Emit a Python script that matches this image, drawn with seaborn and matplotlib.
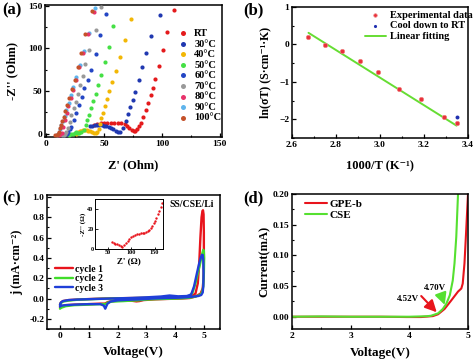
import numpy as np
import pandas as pd
import seaborn as sns
import matplotlib.pyplot as plt
from matplotlib.ticker import MultipleLocator

# ---------------- (a) Nyquist plots ----------------
temps = ['RT', '30°C', '40°C', '50°C', '60°C', '70°C', '80°C', '90°C', '100°C']
temp_colors = ['#e41a1c', '#2038b0', '#f2b705', '#45e045', '#2446c4',
               '#999999', '#e8336b', '#5fb4ec', '#c4512a']

zr_rt = [41, 44, 47, 50, 53, 56, 59, 62, 65, 68, 70, 72, 74, 75.5, 77, 78.5, 80,
         81.8, 83.8, 86, 88.3, 90.2, 92.2, 94.4, 97.8, 100.6, 104.7, 110.6]
zi_rt = [10, 11.5, 12, 12.5, 12.5, 13, 13, 12.8, 12.5, 11, 9, 6.5, 4, 2.5, 2.8, 5, 9,
         13, 20, 27.7, 36, 45, 54, 63.7, 79, 98, 119.5, 145.7]
zr_30 = [38, 40, 42, 44, 46, 48, 50, 52, 54, 56, 58, 60, 62.3, 64, 66.5, 68.7, 70.7,
         72.6, 74.9, 77, 80, 83, 86.6, 91, 98]
zi_30 = [9, 9.5, 9.8, 10, 10, 9.8, 9.5, 9, 8, 6.5, 5, 3, 1.5, 2, 6, 15, 23,
         31, 39.5, 49, 63, 78.5, 95, 115, 139]
zr_40 = [26, 27.5, 29, 30.5, 32, 33.5, 35, 36.5, 38, 39.5, 41, 42.7, 44, 45.5, 46.6,
         47.8, 49.2, 50.6, 52.5, 54.7, 57, 60, 63.7, 68, 73.5]
zi_40 = [0, 1.5, 2.5, 3.5, 3.8, 4, 3.8, 3.5, 3, 2, 1, 0.5, 2, 5, 11.3,
         18, 24.6, 32.4, 40.6, 50, 61, 74, 90, 110, 135]
zr_50 = [20, 21.5, 23, 24.5, 26, 27.5, 28.8, 30.5, 32.4, 34.4, 35.7, 37, 38.5, 40.8,
         42.7, 45, 47.5, 50.6, 54, 58]
zi_50 = [-2, -1, 0, 1, 1.5, 1, 0.4, 1.5, 4.3, 10, 16, 22, 29.7, 38,
         47, 57, 68.8, 83.6, 102, 126]
zr_60 = [15, 16.5, 18, 19, 20.5, 21.8, 23.7, 25.4, 28.2, 30.7, 33, 35.8, 38.5, 42.7, 46.6, 52]
zi_60 = [-2, -1, 0, 2.3, 5, 8, 16, 23.8, 33.6, 43, 53, 63, 74.6, 94, 115.6, 140]
zr_70 = [14, 15, 16, 17.5, 19, 20.4, 21.8, 23.7, 25.4, 27.4, 29.3, 31.6, 34, 37, 42.7, 47]
zi_70 = [-2, -1.5, -1, 2, 6, 14, 22, 29.7, 37.5, 47, 57, 68, 82, 98, 121.5, 149]
zr_80 = [11, 12, 13.4, 14.8, 16.2, 17.6, 19, 21.5, 23.2, 25.4, 28.8, 31.6, 35.8, 41.3]
zi_80 = [-2, -1, 0.4, 8, 16, 23.8, 32.4, 41.4, 51, 63, 78, 94.5, 116.4, 142.6]
zr_90 = [9, 10, 11, 12, 13, 14.5, 16, 17.5, 19.5, 21.5, 23.5, 26, 29, 32.5, 37, 42]
zi_90 = [-2, -1, 1, 5, 10, 15, 21, 28, 36, 45, 55, 66, 80, 97, 118, 148]
zr_100 = [8, 9, 10, 11, 12, 13, 14, 15, 16.5, 18, 20, 22, 24.5, 27.5, 30.5, 34, 39.5]
zi_100 = [-2, -1.5, -0.5, 2, 6, 10, 15, 20, 26, 33, 42, 52, 63, 78, 95, 117, 144]

nyquist = [(zr_rt, zi_rt), (zr_30, zi_30), (zr_40, zi_40), (zr_50, zi_50),
           (zr_60, zi_60), (zr_70, zi_70), (zr_80, zi_80), (zr_90, zi_90),
           (zr_100, zi_100)]

# ---------------- (b) Arrhenius ----------------
inv_t = [2.675, 2.75, 2.827, 2.907, 2.993, 3.086, 3.186, 3.291, 3.348]
ln_st = [0.20, -0.02, -0.18, -0.44, -0.74, -1.19, -1.45, -1.94, -2.11]
cool_x = [3.348]
cool_y = [-1.94]
fit_x = [2.675, 3.348]
fit_y = [0.31, -2.17]

# ---------------- (c) CV ----------------
c1_v = [0.00, 0.03, 0.10, 0.30, 0.60, 1.00, 1.50, 2.00, 2.50, 3.00, 3.50, 3.90, 4.30,
        4.55, 4.70, 4.78, 4.83, 4.87, 4.91, 4.94, 4.96, 4.98, 4.99, 4.99, 4.98, 4.95,
        4.88, 4.70, 4.50, 4.20, 3.80, 3.30, 2.90, 2.75, 2.65, 2.50, 2.20, 1.80, 1.65,
        1.60, 1.55, 1.40, 1.00, 0.50, 0.20, 0.05, 0.00]
c1_j = [-0.06, -0.04, -0.025, -0.015, -0.01, -0.005, 0.000, 0.003, 0.005, 0.007, 0.010,
        0.012, 0.015, 0.02, 0.05, 0.15, 0.35, 0.60, 0.80, 0.86, 0.87, 0.83, 0.65, 0.40,
        0.20, 0.10, 0.05, 0.02, 0.005, 0.000, -0.003, -0.008, -0.015, -0.025, -0.028,
        -0.022, -0.02, -0.025, -0.035, -0.045, -0.05, -0.05, -0.055, -0.06, -0.065,
        -0.075, -0.085]
c2_v = [0.00, 0.03, 0.10, 0.30, 0.60, 1.00, 1.50, 2.00, 2.50, 3.00, 3.50, 3.90, 4.30,
        4.50, 4.60, 4.70, 4.78, 4.85, 4.90, 4.94, 4.97, 4.99, 5.00, 4.99, 4.97, 4.93,
        4.85, 4.70, 4.50, 4.20, 3.80, 3.30, 2.90, 2.70, 2.50, 2.20, 1.80, 1.65, 1.60,
        1.55, 1.40, 1.00, 0.50, 0.20, 0.05, 0.00]
c2_j = [-0.07, -0.045, -0.03, -0.02, -0.012, -0.007, -0.002, 0.002, 0.004, 0.006, 0.010,
        0.012, 0.015, 0.025, 0.06, 0.15, 0.25, 0.33, 0.40, 0.45, 0.48, 0.47, 0.40, 0.25,
        0.12, 0.06, 0.035, 0.02, 0.008, 0.002, -0.002, -0.006, -0.012, -0.018, -0.02,
        -0.025, -0.03, -0.04, -0.055, -0.055, -0.055, -0.06, -0.065, -0.075, -0.09, -0.10]
c3_v = [0.00, 0.03, 0.10, 0.30, 0.60, 1.00, 1.50, 2.00, 2.50, 3.00, 3.50, 3.80, 4.10,
        4.40, 4.55, 4.65, 4.75, 4.83, 4.88, 4.92, 4.95, 4.97, 4.98, 4.97, 4.95, 4.90,
        4.80, 4.60, 4.40, 4.10, 3.70, 3.20, 2.80, 2.40, 2.00, 1.75, 1.65, 1.60, 1.57,
        1.52, 1.40, 1.00, 0.50, 0.20, 0.05, 0.00]
c3_j = [-0.06, -0.04, -0.025, -0.015, -0.01, -0.006, -0.002, 0.002, 0.006, 0.012, 0.020,
        0.030, 0.022, 0.025, 0.04, 0.12, 0.25, 0.35, 0.40, 0.43, 0.43, 0.38, 0.25, 0.12,
        0.06, 0.035, 0.025, 0.018, 0.012, 0.008, 0.005, 0.0, -0.008, -0.012, -0.018,
        -0.03, -0.05, -0.08, -0.10, -0.07, -0.055, -0.055, -0.06, -0.065, -0.07, -0.08]
cycles = ['cycle 1', 'cycle 2', 'cycle 3']
cycle_colors = ['#e8141c', '#40dd2a', '#1f3fd8']

inset_zr = [58, 62, 66, 70, 74, 78, 81, 84, 88, 92, 96, 100, 104, 108, 112, 116, 120,
            124, 128, 132, 136, 139, 142, 145, 148, 151, 154, 157, 160, 163, 166]
inset_zi = [6.5, 5.8, 5, 4.3, 3.5, 2.5, 2, 3.5, 6, 8, 10, 11.5, 12.8, 13.8, 14.5, 15,
            15.2, 15.5, 16, 16.5, 17.5, 19, 21, 23, 25.5, 28, 31, 34.5, 38, 42, 46]

# ---------------- (d) LSV ----------------
gpe_v = [2.0, 2.5, 3.0, 3.5, 3.95, 4.2, 4.4, 4.49, 4.6, 4.71, 4.83, 4.886, 4.91, 4.94, 4.97, 5.0]
gpe_i = [0.0, 0.0, 0.0, 0.0, -0.0005, -0.0005, 0.001, 0.004, 0.0126, 0.026, 0.041,
         0.046, 0.054, 0.087, 0.142, 0.2]
cse_v = [2.0, 2.5, 3.0, 3.5, 4.0, 4.3, 4.37, 4.49, 4.57, 4.63, 4.69, 4.74, 4.77, 4.8, 4.83]
cse_i = [0.0, 0.0005, 0.0, 0.0, 0.0, 0.0008, 0.0016, 0.0055, 0.0126, 0.021, 0.035,
         0.059, 0.087, 0.13, 0.2]

# ---------------- style ----------------
sns.set_style("ticks")
plt.rcParams['font.family'] = ['Liberation Serif', 'DejaVu Serif']
plt.rcParams.update({
    'font.weight': 'bold', 'axes.labelweight': 'bold',
    'axes.edgecolor': 'black', 'axes.linewidth': 1.1,
    'text.color': 'black', 'axes.labelcolor': 'black',
    'xtick.color': 'black', 'ytick.color': 'black',
    'xtick.direction': 'in', 'ytick.direction': 'in',
    'xtick.labelsize': 6.8, 'ytick.labelsize': 6.8,
    'xtick.major.size': 3, 'ytick.major.size': 3,
    'xtick.minor.size': 1.6, 'ytick.minor.size': 1.6,
    'xtick.major.width': 0.9, 'ytick.major.width': 0.9,
    'xtick.minor.width': 0.8, 'ytick.minor.width': 0.8,
    'xtick.major.pad': 2.5, 'ytick.major.pad': 2,
})


def style_ax(ax, xmaj, xmin, ymaj, ymin):
    ax.xaxis.set_major_locator(MultipleLocator(xmaj))
    ax.xaxis.set_minor_locator(MultipleLocator(xmin))
    ax.yaxis.set_major_locator(MultipleLocator(ymaj))
    ax.yaxis.set_minor_locator(MultipleLocator(ymin))
    for s in ax.spines.values():
        s.set_visible(True)


fig = plt.figure(figsize=(4.74, 3.62), dpi=100)
W, H = 474, 362


def add_ax(x0, x1, y0, y1):
    return fig.add_axes([x0 / W, 1 - y1 / H, (x1 - x0) / W, (y1 - y0) / H])


ax_a = add_ax(45, 222, 5, 137)
ax_b = add_ax(292, 468, 7, 138)
ax_c = add_ax(47, 220, 195, 329)
ax_d = add_ax(292, 468, 194, 329)

# (a)
draw_order = [7, 0, 1, 2, 3, 4, 5, 6, 8]
for k in draw_order:
    zr, zi = nyquist[k]
    sns.scatterplot(x=zr, y=zi, ax=ax_a, color=temp_colors[k], s=9, linewidth=0,
                    label=temps[k], zorder=3)
h, l = ax_a.get_legend_handles_labels()
order = [l.index(t) for t in temps]
ax_a.legend([h[i] for i in order], temps, loc='upper left', bbox_to_anchor=(0.755, 0.82),
            frameon=False, fontsize=7.5, borderpad=0, handlelength=0.8,
            handletextpad=0.7, labelspacing=0.12, markerscale=1.2, borderaxespad=0)
ax_a.set_xlim(-1, 152)
ax_a.set_ylim(-4, 151)
style_ax(ax_a, 50, 25, 50, 25)
ax_a.set_xlabel("Z' (Ohm)", fontsize=9)
ax_a.set_ylabel("-Z'' (Ohm)", fontsize=9)
ax_a.xaxis.set_label_coords(0.5, -0.17)
ax_a.yaxis.set_label_coords(-0.15, 0.5)

# (b)
sns.scatterplot(x=inv_t, y=ln_st, ax=ax_b, color='#e8303a', marker='o', s=10,
                edgecolor='#f08080', linewidth=0.5, label='Experimental data', zorder=3)
sns.scatterplot(x=cool_x, y=cool_y, ax=ax_b, color='#2030b0', marker='o', s=8,
                linewidth=0, label='Cool down to RT', zorder=3)
sns.lineplot(x=fit_x, y=fit_y, ax=ax_b, color='#66dd33', lw=1.4, label='Linear fitting',
             zorder=2)
ax_b.legend(loc='upper left', bbox_to_anchor=(0.415, 0.975), frameon=False, fontsize=7.5,
            borderpad=0, handlelength=2.0, handletextpad=0.4, labelspacing=0.15,
            borderaxespad=0, markerscale=0.8)
ax_b.set_xlim(2.6, 3.4)
ax_b.set_ylim(-2.5, 1.0)
style_ax(ax_b, 0.2, 0.1, 1, 0.5)
ax_b.set_xlabel("1000/T (K⁻¹)", fontsize=9)
ax_b.set_ylabel("ln(σT) (S·cm⁻¹·K)", fontsize=8.5)
ax_b.xaxis.set_label_coords(0.5, -0.17)
ax_b.yaxis.set_label_coords(-0.12, 0.5)

# (c)
for v, j, name, col in zip([c1_v, c2_v, c3_v], [c1_j, c2_j, c3_j], cycles, cycle_colors):
    sns.lineplot(x=v, y=j, ax=ax_c, sort=False, estimator=None, color=col, lw=1.7,
                 label=name)
ax_c.legend(loc='upper left', bbox_to_anchor=(0.046, 0.48), frameon=False, fontsize=7,
            borderpad=0, handlelength=1.9, handletextpad=0.2, labelspacing=0.05,
            borderaxespad=0)
ax_c.set_xlim(-0.45, 5.55)
ax_c.set_ylim(-0.3, 1.02)
style_ax(ax_c, 1, 0.5, 0.2, 0.1)
ax_c.yaxis.set_major_formatter(plt.FuncFormatter(lambda y, p: f"{y:.1f}"))
ax_c.set_xlabel("Voltage(V)", fontsize=9.5)
ax_c.set_ylabel("j (mA·cm⁻²)", fontsize=9)
ax_c.xaxis.set_label_coords(0.5, -0.13)
ax_c.yaxis.set_label_coords(-0.14, 0.5)
ax_c.text(5.33, 0.93, "SS/CSE/Li", fontsize=7, ha='right', va='center')

ins = fig.add_axes([95 / W, 1 - 249 / H, 68 / W, 50 / H])
sns.scatterplot(x=inset_zr, y=inset_zi, ax=ins, color='#e8141c', s=3, linewidth=0)
ins.set_xlim(22, 168)
ins.set_ylim(-0.5, 50)
ins.xaxis.set_major_locator(MultipleLocator(50))
ins.yaxis.set_major_locator(MultipleLocator(20))
ins.tick_params(labelsize=4.5, length=1.8, width=0.6, pad=1)
for s in ins.spines.values():
    s.set_linewidth(0.7)
ins.set_xlabel("Z' (Ω)", fontsize=6.5, labelpad=1)
ins.set_ylabel("-Z'' (Ω)", fontsize=5, labelpad=1)

# (d)
sns.lineplot(x=gpe_v, y=gpe_i, ax=ax_d, color='#e8141c', lw=1.5, label='GPE-b', sort=False,
             estimator=None)
sns.lineplot(x=cse_v, y=cse_i, ax=ax_d, color='#55e030', lw=1.5, label='CSE', sort=False,
             estimator=None)
ax_d.legend(loc='upper left', bbox_to_anchor=(0.074, 0.96), frameon=False, fontsize=8,
            borderpad=0, handlelength=2.0, handletextpad=0.2, labelspacing=0.1,
            borderaxespad=0)
ax_d.annotate('', xy=(4.5, 0.004), xytext=(4.17, 0.037),
              arrowprops=dict(arrowstyle='-|>,head_length=0.7,head_width=0.35',
                              color='#e8141c', lw=1.5))
ax_d.annotate('', xy=(4.62, 0.015), xytext=(4.53, 0.039),
              arrowprops=dict(arrowstyle='-|>,head_length=0.7,head_width=0.35',
                              color='#55e030', lw=1.5))
ax_d.text(3.98, 0.029, "4.52V", fontsize=6.5, ha='center', va='center')
ax_d.text(4.43, 0.047, "4.70V", fontsize=6.5, ha='center', va='center')
ax_d.set_xlim(2, 5)
ax_d.set_ylim(-0.02, 0.2)
style_ax(ax_d, 1, 0.5, 0.05, 0.025)
ax_d.yaxis.set_major_formatter(plt.FuncFormatter(lambda y, p: f"{y:.2f}"))
ax_d.set_xlabel("Voltage(V)", fontsize=9.5)
ax_d.set_ylabel("Current(mA)", fontsize=9)
ax_d.xaxis.set_label_coords(0.5, -0.13)
ax_d.yaxis.set_label_coords(-0.12, 0.5)

# panel letters
for txt, x, y in [("(a)", 2, 10), ("(b)", 243, 10), ("(c)", 2, 198), ("(d)", 243, 198)]:
    fig.text(x / W, 1 - y / H, txt, fontsize=12, fontweight='bold', ha='left', va='center')

fig.savefig("out.png", dpi=100)
